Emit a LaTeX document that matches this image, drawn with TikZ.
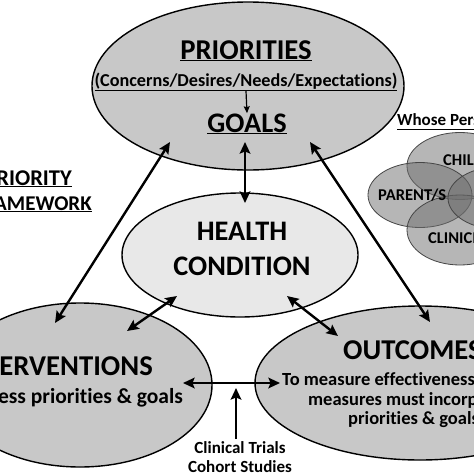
\documentclass[tikz,border=0pt]{standalone}
\usepackage{fontspec}
\setmainfont{Carlito}[Ligatures=NoCommon]
\usetikzlibrary{shapes.geometric,arrows.meta}
\definecolor{grayA}{RGB}{200,200,200}
\definecolor{grayB}{RGB}{232,232,232}
\definecolor{vennfill}{RGB}{110,110,110}
\definecolor{venndraw}{RGB}{70,70,70}
\begin{document}
\begin{tikzpicture}[x=1pt,y=-1pt,
  >={Stealth[length=11.5pt,width=10.5pt,inset=2pt]},
  big/.style={ellipse, draw=black, line width=1.4pt, inner sep=0pt},
  venn/.style={ellipse, draw=venndraw, line width=0.8pt, fill=vennfill, fill opacity=0.5, inner sep=0pt},
  txt/.style={inner sep=0pt},
  huge/.style={txt, font=\bfseries\fontsize{28.3}{28.3}\selectfont},
  bigger/.style={txt, font=\bfseries\fontsize{28.7}{28.7}\selectfont},
  mid/.style={txt, font=\bfseries\fontsize{21}{21}\selectfont},
  intsub/.style={txt, font=\bfseries\fontsize{21.5}{21.5}\selectfont},
  outsub/.style={txt, font=\bfseries\fontsize{18.5}{18.5}\selectfont},
  small/.style={txt, font=\bfseries\fontsize{16.5}{16.5}\selectfont},
  study/.style={txt, font=\bfseries\fontsize{17}{17}\selectfont},
  conn/.style={line width=2.4pt, <->},
  oneway/.style={line width=2.4pt, ->},
]
\useasboundingbox (0,0) rectangle (474,474);
\clip (0,0) rectangle (474,474);
\fill[white] (0,0) rectangle (474,474);

% big ellipses
\node[big, fill=grayA, minimum width=312pt, minimum height=168pt] (top) at (248,86) {};
\node[big, fill=grayB, minimum width=236pt, minimum height=124pt] (health) at (240,255) {};
\node[big, fill=grayA, minimum width=264pt, minimum height=164pt] (interv) at (80,385) {};
\node[big, fill=grayA, minimum width=330pt, minimum height=154pt] (outc) at (420,383) {};

% venn
\node[venn, minimum width=106pt, minimum height=67pt] (child) at (460,166) {};
\node[venn, minimum width=104pt, minimum height=65pt] (parent) at (420,195) {};
\node[venn, minimum width=106pt, minimum height=70pt] (clin) at (460,230) {};
\node[venn, minimum width=104pt, minimum height=63pt] (fourth) at (500,198) {};

% texts in top ellipse
\node[bigger, anchor=base] (prio) at (246,59) {\underline{PRIORITIES}};
\node[txt, font=\bfseries\fontsize{18.2}{18.2}\selectfont, anchor=base] (conc) at (246,86) {\underline{(Concerns/Desires/Needs/Expectations)}};
\node[huge, anchor=base] (goals) at (247,132) {\underline{GOALS}};

% health
\node[huge, anchor=base] (hl1) at (242,240) {HEALTH};
\node[huge, anchor=base] (hl2) at (242,275) {CONDITION};

% interventions
\node[bigger, anchor=base east] (int1) at (153,375) {INTERVENTIONS};
\node[intsub, anchor=base east] (int2) at (183,403) {To address priorities \& goals};

% outcomes
\node[bigger, anchor=base west] (out1) at (343,359) {OUTCOMES};
\node[outsub, anchor=base west] (out2) at (282,385) {To measure effectiveness, outcome};
\node[outsub, anchor=base west] (out3) at (308,405) {measures must incorporate};
\node[outsub, anchor=base west] (out4) at (348,424) {priorities \& goals};

% left framework label
\node[txt, font=\bfseries\fontsize{22.5}{22.5}\selectfont, anchor=base east] (pf1) at (72,185) {\underline{PRIORITY}};
\node[mid, anchor=base east] (pf2) at (92,210) {\underline{FRAMEWORK}};

% perspective
\node[txt, font=\bfseries\fontsize{17}{17}\selectfont, anchor=base west] (whose) at (397,125) {\underline{Whose Perspective?}};
\node[small, anchor=base west] (lchild) at (443,165) {CHILD};
\node[small, anchor=base west] (lparent) at (378,200) {PARENT/S};
\node[small, anchor=base west] (lclin) at (428,243) {CLINICIAN};

% study designs
\node[study, anchor=base] (ct) at (240,453) {Clinical Trials};
\node[study, anchor=base] (cs) at (240,472) {Cohort Studies};

% connector end points
\coordinate (gA) at (245,142);
\coordinate (hA) at (245,203);
\coordinate (tL) at (170,142);
\coordinate (iT) at (55,323);
\coordinate (tR) at (310,142);
\coordinate (oT) at (430,322);
\coordinate (hL) at (177,296);
\coordinate (iR) at (127,331);
\coordinate (hR) at (287,296);
\coordinate (oL) at (338,336);
\coordinate (iE) at (183,383);
\coordinate (oW) at (280,383);
\coordinate (cT) at (236,388);
\coordinate (cB) at (236,439);

\draw[line width=1.2pt, -{Stealth[length=7pt,width=6pt,inset=1pt]}] (conc.south) -- (goals.north);
\draw[conn] (gA) -- (hA);
\draw[conn] (tL) -- (iT);
\draw[conn] (tR) -- (oT);
\draw[conn] (hL) -- (iR);
\draw[conn] (hR) -- (oL);
\draw[conn] (iE) -- (oW);
\draw[oneway] (cB) -- (cT);
\end{tikzpicture}
\end{document}
